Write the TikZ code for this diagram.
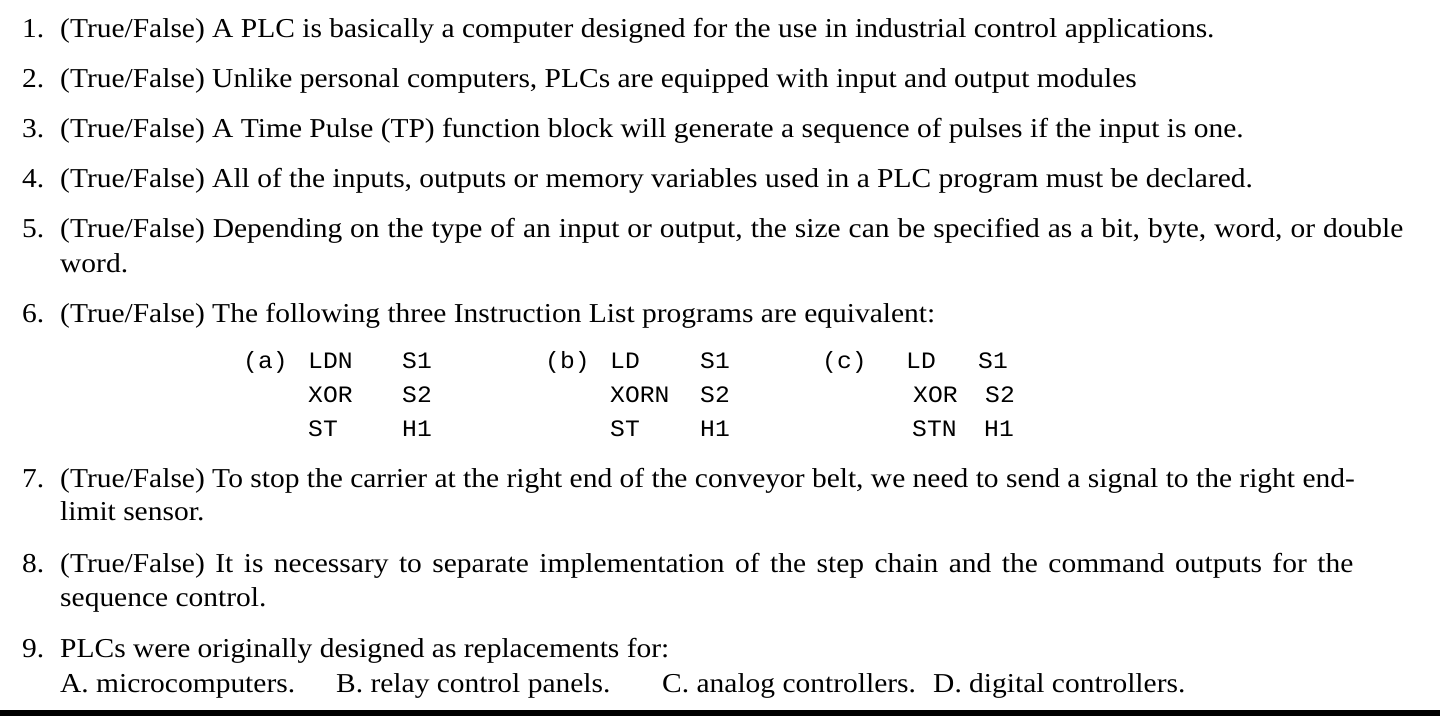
\documentclass[tikz,border=0pt]{standalone}
\usepackage{fontspec}
\setmainfont[FakeStretch=1.08]{Liberation Serif}
\setmonofont[FakeStretch=1.05]{Liberation Mono}
\begin{document}
\begin{tikzpicture}[x=1pt,y=-1pt,
  t/.style={anchor=base west,inner sep=0pt,font=\fontsize{27.3}{30}\selectfont},
  c/.style={anchor=base west,inner sep=0pt,font=\ttfamily\fontsize{23.5}{26}\selectfont}]
\useasboundingbox (0,0) rectangle (1440,716);
\fill[white] (0,0) rectangle (1440,716);
\foreach \n/\y in {1/37,2/87,3/137,4/187,5/237,6/322,7/487,8/572,9/657}
  \node[t] (n\n) at (22,\y) {\n.};
\node[t] (l1) at (60,37) {(True/False) A PLC is basically a computer designed for the use in industrial control applications.};
\node[t] (l2) at (60,87) {(True/False) Unlike personal computers, PLCs are equipped with input and output modules};
\node[t] (l3) at (60,137) {(True/False) A Time Pulse (TP) function block will generate a sequence of pulses if the input is one.};
\node[t] (l4) at (60,187) {(True/False) All of the inputs, outputs or memory variables used in a PLC program must be declared.};
\node[t] (l5) at (60,237) {\makebox[1343pt][s]{(True/False) Depending on the type of an input or output, the size can be specified as a bit, byte, word, or double}};
\node[t] (l5b) at (60,272) {word.};
\node[t] (l6) at (60,322) {(True/False) The following three Instruction List programs are equivalent:};
% code
\node[c] (a0) at (243,368) {(a)};
\node[c] (a1) at (308,368) {LDN};  \node[c] (a2) at (402,368) {S1};
\node[c] (a3) at (308,402) {XOR};  \node[c] (a4) at (402,402) {S2};
\node[c] (a5) at (308,436) {ST};   \node[c] (a6) at (402,436) {H1};
\node[c] (b0) at (545,368) {(b)};
\node[c] (b1) at (610,368) {LD};   \node[c] (b2) at (700,368) {S1};
\node[c] (b3) at (610,402) {XORN}; \node[c] (b4) at (700,402) {S2};
\node[c] (b5) at (610,436) {ST};   \node[c] (b6) at (700,436) {H1};
\node[c] (c0) at (822,368) {(c)};
\node[c] (c1) at (906,368) {LD};   \node[c] (c2) at (978,368) {S1};
\node[c] (c3) at (913,402) {XOR};  \node[c] (c4) at (985,402) {S2};
\node[c] (c5) at (912,436) {STN};  \node[c] (c6) at (984,436) {H1};
\node[t] (l7) at (60,487) {(True/False) To stop the carrier at the right end of the conveyor belt, we need to send a signal to the right end-};
\node[t] (l7b) at (60,520) {limit sensor.};
\node[t] (l8) at (60,572) {\makebox[1293pt][s]{(True/False) It is necessary to separate implementation of the step chain and the command outputs for the}};
\node[t] (l8b) at (60,606) {sequence control.};
\node[t] (l9) at (60,657) {PLCs were originally designed as replacements for:};
\node[t] (o1) at (60,692) {A. microcomputers.};
\node[t] (o2) at (336,692) {B. relay control panels.};
\node[t] (o3) at (662,692) {C. analog controllers.};
\node[t] (o4) at (933,692) {D. digital controllers.};
\fill[black] (0,710) rectangle (1440,716);
\end{tikzpicture}
\end{document}
